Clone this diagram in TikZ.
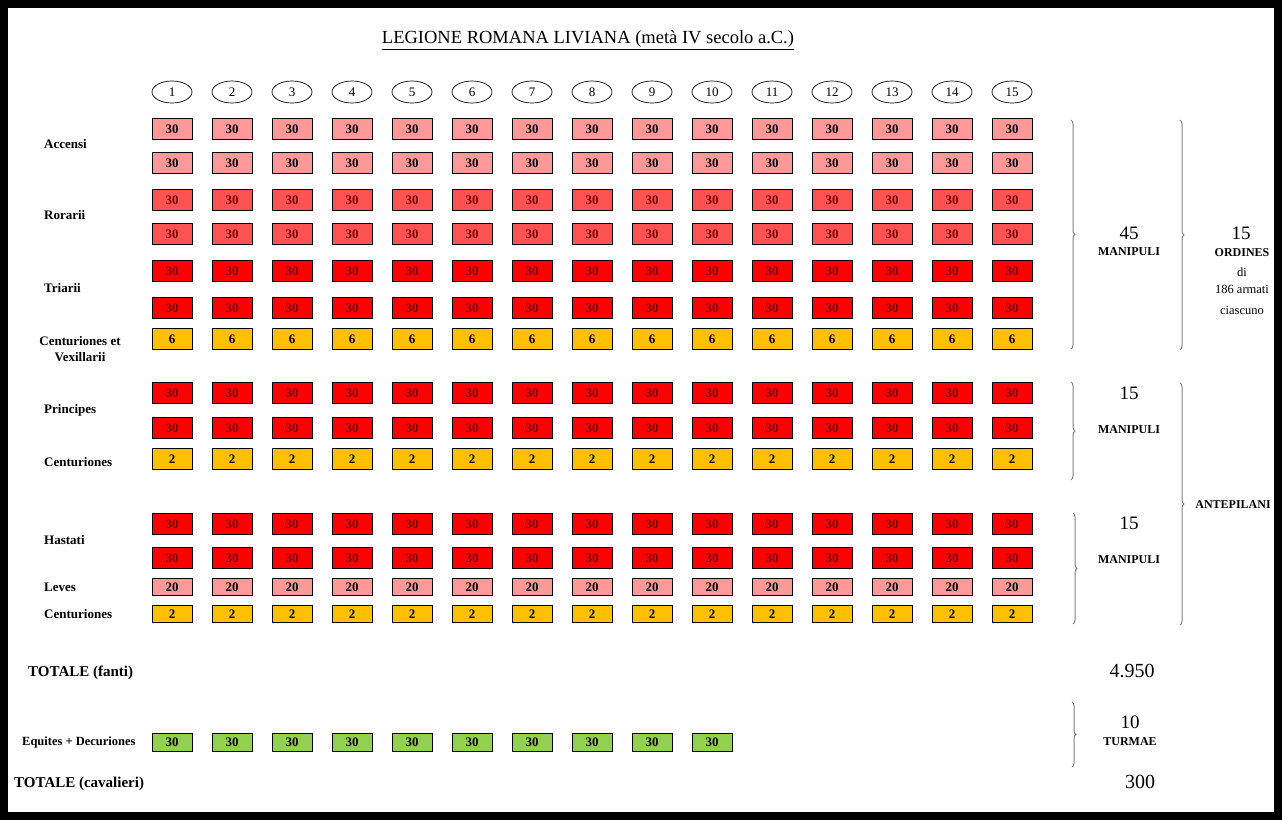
\documentclass[tikz,border=0pt]{standalone}
\usepackage{fontspec}
\setmainfont{Liberation Serif}
\usepackage{tikz}
\usetikzlibrary{shapes.geometric,decorations.pathreplacing}

\definecolor{rosa}{HTML}{FF9999}
\definecolor{rosso}{HTML}{FF5353}
\definecolor{pieno}{HTML}{FF0000}
\definecolor{oro}{HTML}{FFC000}
\definecolor{verde}{HTML}{92D050}
\definecolor{scuro}{HTML}{7A0000}

\begin{document}
\begin{tikzpicture}[x=1pt,y=-1pt,
    cella/.style={draw=black, line width=0.9pt, minimum width=40pt, minimum height=21pt,
      inner sep=0pt, font=\bfseries\fontsize{13}{13}\selectfont},
    colonna/.style={ellipse, draw, line width=0.7pt, minimum width=40pt, minimum height=22pt,
      inner sep=0pt, font=\fontsize{13}{13}\selectfont},
    voce/.style={anchor=west, inner sep=0pt, font=\bfseries\fontsize{13}{16}\selectfont},
    totale/.style={anchor=west, inner sep=0pt, font=\bfseries\fontsize{15}{15}\selectfont},
    cifra/.style={font=\fontsize{19}{19}\selectfont},
    unita/.style={font=\bfseries\fontsize{12}{12}\selectfont},
    nota/.style={font=\fontsize{12.5}{12.5}\selectfont},
    graffa/.style={draw=gray, line width=1pt, decorate, decoration={brace, amplitude=4pt}}]

    % cornice
    \fill[black] (0,0) rectangle (1282,820);
    \fill[white] (8,8) rectangle (1274,812);
    \useasboundingbox (0,0) rectangle (1282,820);

    \node[font=\fontsize{18.5}{18.5}\selectfont] (titolo) at (588,40)
      {\underline{LEGIONE ROMANA LIVIANA (metà IV secolo a.C.)}};

    % numeri dei manipoli
    \foreach \k in {1,...,15}
      \node[colonna] (col-\k) at ({112+60*\k},92) {\k};

    % fanteria
    \foreach \r/\y/\c/\t/\n/\h in {acc1/129/rosa/black/30/21, acc2/163/rosa/black/30/21,
        ror1/200/rosso/scuro/30/21, ror2/234/rosso/scuro/30/21,
        tri1/271/pieno/scuro/30/21, tri2/308/pieno/scuro/30/21,
        cvx/339/oro/black/6/21,
        pri1/393/pieno/scuro/30/21, pri2/428/pieno/scuro/30/21,
        cen1/459/oro/black/2/21,
        has1/524/pieno/scuro/30/21, has2/558/pieno/scuro/30/21,
        lev/587/rosa/black/20/17,
        cen2/614/oro/black/2/17}
      \foreach \k in {1,...,15}
        \node[cella, fill=\c, text=\t, minimum height=\h pt] (\r-\k) at ({112+60*\k},\y) {\n};

    % cavalleria
    \foreach \k in {1,...,10}
      \node[cella, fill=verde, minimum height=18pt] (eq-\k) at ({112+60*\k},742) {30};

    \node[voce] (accensi) at (44,144) {Accensi};
    \node[voce] (rorarii) at (44,215) {Rorarii};
    \node[voce] (triarii) at (44,288) {Triarii};
    \node[voce, anchor=center, align=center] (vexillarii) at (80,349) {Centuriones et\\Vexillarii};
    \node[voce] (principes) at (44,410) {Principes};
    \node[voce] (centurionesA) at (44,462) {Centuriones};
    \node[voce] (hastati) at (44,540) {Hastati};
    \node[voce] (leves) at (44,587) {Leves};
    \node[voce] (centurionesB) at (44,614) {Centuriones};
    \node[totale] (totfanti) at (28,673) {TOTALE (fanti)};
    \node[voce, font=\bfseries\fontsize{12.5}{12.5}\selectfont] (equites) at (22,742) {Equites + Decuriones};
    \node[totale] (totcavalieri) at (14,784) {TOTALE (cavalieri)};

    % graffe
    \coordinate (g1a) at (1071,120); \coordinate (g1b) at (1071,349);
    \coordinate (g2a) at (1180,120); \coordinate (g2b) at (1180,350);
    \coordinate (g3a) at (1071,382); \coordinate (g3b) at (1071,480);
    \coordinate (g4a) at (1073,513); \coordinate (g4b) at (1073,624);
    \coordinate (g5a) at (1180,383); \coordinate (g5b) at (1180,625);
    \coordinate (g6a) at (1072,702); \coordinate (g6b) at (1072,767);
    \draw[graffa] (g1a) -- (g1b);
    \draw[graffa] (g2a) -- (g2b);
    \draw[graffa] (g3a) -- (g3b);
    \draw[graffa] (g4a) -- (g4b);
    \draw[graffa] (g5a) -- (g5b);
    \draw[graffa] (g6a) -- (g6b);

    \node[cifra] (n45) at (1129,233) {45};
    \node[unita] (manipuliA) at (1129,252) {MANIPULI};
    \node[cifra] (ordN) at (1241,233) {15};
    \node[unita] (ordines) at (1242,253) {ORDINES};
    \node[nota] (di) at (1242,272) {di};
    \node[nota] (armati) at (1242,289) {186 armati};
    \node[nota] (ciascuno) at (1242,310) {ciascuno};
    \node[cifra] (n15b) at (1129,393) {15};
    \node[unita] (manipuliB) at (1129,430) {MANIPULI};
    \node[cifra] (n15c) at (1129,523) {15};
    \node[unita] (manipuliC) at (1129,560) {MANIPULI};
    \node[unita] (antepilani) at (1233,505) {ANTEPILANI};
    \node[cifra, font=\fontsize{20}{20}\selectfont] (fanti) at (1132,671) {4.950};
    \node[cifra] (n10) at (1130,722) {10};
    \node[unita] (turmae) at (1130,742) {TURMAE};
    \node[cifra, font=\fontsize{20}{20}\selectfont] (cavalieri) at (1140,782) {300};
\end{tikzpicture}
\end{document}
